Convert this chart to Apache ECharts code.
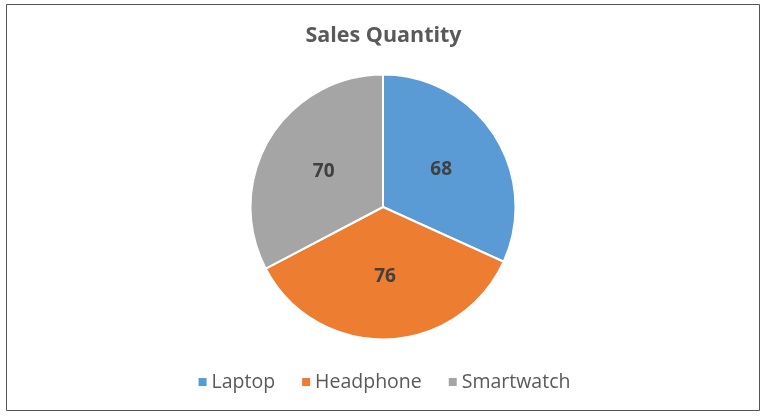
<!DOCTYPE html>
<html><head><meta charset="utf-8">
<script src="https://cdn.jsdelivr.net/npm/echarts@6/dist/echarts.min.js"></script>
<style>html,body{margin:0;padding:0;background:#fff}#c{width:767px;height:418px}</style>
</head><body><div id="c"></div>
<script>
const categories = ["Laptop", "Headphone", "Smartwatch"];
const values = [68, 76, 70];
const colors = ["#5B9BD5", "#ED7D31", "#A5A5A5"];
const titleText = "Sales Quantity";

const chart = echarts.init(document.getElementById('c'), null, {renderer: 'canvas'});
chart.setOption({
  backgroundColor: '#ffffff',
  animation: false,
  title: {
    text: titleText, left: 'center', top: 20,
    textStyle: {fontFamily: 'Open Sans', fontWeight: 'bold', fontSize: 21.5, color: '#595959'}
  },
  legend: {
    data: categories, left: 'center', top: 367, itemWidth: 10, itemHeight: 10, itemGap: 25,
    icon: 'rect',
    textStyle: {fontFamily: 'Open Sans', fontSize: 19.5, color: '#595959', padding: [0,0,0,-1]}
  },
  graphic: [{
    type: 'rect', shape: {x: 6.5, y: 4.5, width: 753, height: 406},
    style: {fill: 'none', stroke: '#555555', lineWidth: 1}, silent: true, z: 100
  }],
  series: [{
    type: 'pie', center: [383, 207], radius: [0, 132.5], startAngle: 90, clockwise: true,
    data: categories.map((c, i) => ({name: c, value: values[i], itemStyle: {color: colors[i]}})),
    itemStyle: {borderColor: '#ffffff', borderWidth: 2},
    label: {show: true, position: 'inside', formatter: '{c}', fontFamily: 'Open Sans', fontWeight: 'bold', fontSize: 19, color: '#404040'},
    labelLine: {show: false}
  }]
});
</script></body></html>
